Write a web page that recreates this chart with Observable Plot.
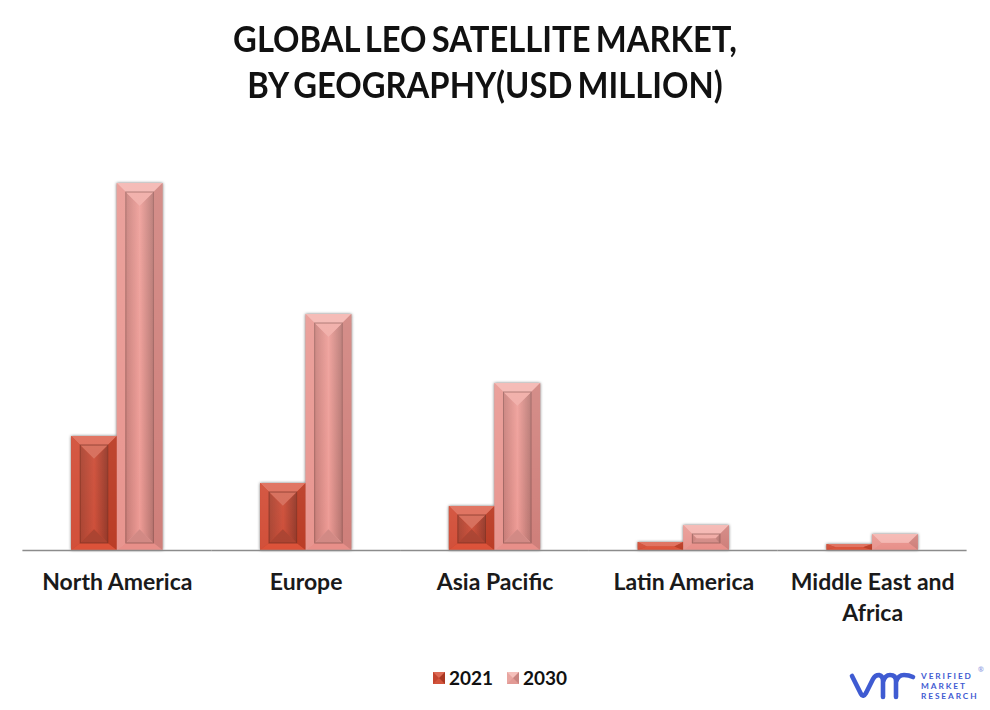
<!DOCTYPE html>
<html><head><meta charset="utf-8">
<script src="https://cdn.jsdelivr.net/npm/d3@7"></script>
<script src="https://cdn.jsdelivr.net/npm/@observablehq/plot@0.6"></script>
<style>
html,body{margin:0;padding:0;background:#fff;width:990px;height:710px;overflow:hidden;font-family:Lato,sans-serif;color:#111}
#title{position:absolute;left:0;top:15px;width:970px;text-align:center;font-weight:700;font-size:36px;line-height:46px;word-spacing:-3px;transform:scaleX(.91);transform-origin:485px 0}
#chart{position:absolute;left:0;top:140px}
#legend{position:absolute;left:0;top:665px;width:990px;height:26px;font-weight:700;font-size:19px}
#legend span{position:absolute;top:0;line-height:26px}
#legend i{position:absolute;top:7px;width:0;height:0;border-style:solid;border-width:6px}
#logo{position:absolute;left:840px;top:660px}
</style></head><body>
<div id="title">GLOBAL LEO SATELLITE MARKET,<br>BY GEOGRAPHY(USD MILLION)</div>
<div id="chart"></div>
<div id="legend">
<i style="left:433px;border-color:#dd6a55 #a93722 #d2543c #c4452f"></i><span style="left:449px">2021</span>
<i style="left:507px;border-color:#f5c0bb #c98480 #e29a95 #e8a6a1"></i><span style="left:523px">2030</span>
</div>
<svg id="logo" width="150" height="50" viewBox="0 0 150 50">
<path d="M12 16 L21 34 Q23 38 26 33 L33 19 Q35 15 39 15 Q43 16 43 21 L43 37 M43 22 Q45 15 50 15 Q56 15 56 21 L56 37 M56 22 Q58 15 64 15 Q69 15 73 17" fill="none" stroke="#3f5bd2" stroke-width="4.6" stroke-linecap="round" stroke-linejoin="round"/>
<g fill="#3f5bd2" font-family="Lato,sans-serif" font-weight="700" font-size="8.3" letter-spacing="1.9">
<text x="81" y="19">VERIFIED</text><text x="81" y="29">MARKET</text><text x="81" y="39">RESEARCH</text>
<text x="138" y="12" font-size="7" letter-spacing="0" fill="#9aa6e4">®</text></g>
</svg>
<script>
const regions = ["North America", "Europe", "Asia Pacific", "Latin America", "Middle East and Africa"];
const tickLabels = ["North America", "Europe", "Asia Pacific", "Latin America", "Middle East and\nAfrica"];
const years = ["2021", "2030"];
const values2021 = [114, 67, 44, 8, 6];
const values2030 = [367, 236, 167, 25, 16];
const colors = ["#c8482f", "#e8a09b"];

const table = regions.flatMap((region, i) => [
  {region, year: years[0], value: values2021[i]},
  {region, year: years[1], value: values2030[i]}
]);

const shades = {
  "2021": {top:"#df6f5c", left:"#d2503a", right:"#bb3d26", bottom:"#dc5239", itop:"#d66c59", ibottom:"#ab4331", edge:"#7d2f20", g:"g21", sheen:"sheen21"},
  "2030": {top:"#f4b3ae", left:"#e8958f", right:"#cf7f7a", bottom:"#e88f89", itop:"#f0a8a2", ibottom:"#d28984", edge:"#8f5652", g:"g30", sheen:"sheen30"}
};

function bevel(index, scales, values, dims, ctx, next) {
  const g = next(index, scales, values, dims, ctx);
  g.style.filter = "drop-shadow(0 0 1.5px rgba(0,0,0,.55))";
  const rects = g.querySelectorAll("rect");
  rects.forEach((r, k) => {
    const d = table[index[k]], s = shades[d.year];
    const x0 = +r.getAttribute("x"), y0 = +r.getAttribute("y");
    const w = +r.getAttribute("width"), h = +r.getAttribute("height");
    const x1 = x0 + w, y1 = y0 + h;
    const parent = d3.select(g);
    const poly = (pts, fill) => parent.append("polygon").attr("points", pts.map(p => p.join(",")).join(" ")).attr("fill", fill);
    const bt = Math.min(9, h * 0.55), bb = Math.min(7, h * 0.45), bs = 9;
    const ax0 = x0 + bs, ax1 = x1 - bs, ay0 = y0 + bt, ay1 = y1 - bb;
    poly([[x0,y0],[x1,y0],[ax1,ay0],[ax0,ay0]], s.top);
    poly([[x0,y1],[x1,y1],[ax1,ay1],[ax0,ay1]], s.bottom);
    poly([[x0,y0],[ax0,ay0],[ax0,ay1],[x0,y1]], s.left);
    poly([[x1,y0],[ax1,ay0],[ax1,ay1],[x1,y1]], s.right);
    const ih = ay1 - ay0;
    if (ih > 3) {
      const t = Math.min((ax1 - ax0) / 2, ih / 2), cx = (ax0 + ax1) / 2;
      poly([[ax0,ay0],[cx,ay0+t],[cx,ay1-t],[ax0,ay1]], `url(#${s.g}l)`);
      poly([[ax1,ay0],[cx,ay0+t],[cx,ay1-t],[ax1,ay1]], `url(#${s.g}r)`);
      poly([[ax0,ay0],[ax1,ay0],[ax1-t,ay0+t],[ax0+t,ay0+t]], s.itop);
      poly([[ax0,ay1],[ax1,ay1],[ax1-t,ay1-t],[ax0+t,ay1-t]], s.ibottom);
      parent.append("rect").attr("x", ax0).attr("y", ay0).attr("width", ax1-ax0).attr("height", ih)
        .attr("fill", "none").attr("stroke", s.edge).attr("stroke-width", 1).attr("stroke-opacity", .75);
    }
    parent.append("rect").attr("x", x0).attr("y", y0).attr("width", w).attr("height", h).attr("fill", `url(#${s.sheen})`);
  });
  return g;
}

const plot = Plot.plot({
  width: 990, height: 500,
  marginLeft: 22.4, marginRight: 23.4, marginTop: 10, marginBottom: 90,
  style: {fontFamily: "Lato, sans-serif", background: "transparent"},
  fx: {domain: regions, padding: 0, round: false, label: null},
  x: {domain: years, paddingInner: 0, paddingOuter: 1.07, round: false, axis: null},
  y: {domain: [0, 400], axis: null},
  color: {domain: years, range: colors},
  marks: [
    Plot.barY(table, {fx: "region", x: "year", y: "value", fill: "year", render: bevel}),
    Plot.ruleY([0], {stroke: "#8c8c8c", strokeWidth: 1.5}),
    Plot.axisFx({
      anchor: "bottom", label: null, tickSize: 0, tickPadding: 17,
      fontSize: 23, fontWeight: 700, fill: "#1a1a1a", lineHeight: 1.35,
      tickFormat: d => tickLabels[regions.indexOf(d)]
    })
  ]
});
const svg = d3.select(plot);
const defs = svg.insert("defs", ":first-child");
const grad = (id, a, b) => {
  const lg = defs.append("linearGradient").attr("id", id).attr("x1", 0).attr("x2", 1).attr("y1", 0).attr("y2", 0);
  lg.append("stop").attr("offset", 0).attr("stop-color", a);
  lg.append("stop").attr("offset", 1).attr("stop-color", b);
};
grad("g21l", "#a94533", "#cd4f3a");
grad("g21r", "#cf4f39", "#94392a");
grad("g30l", "#c67c77", "#ee9a94");
grad("g30r", "#ef9b95", "#b4736e");
const sheen = (id, o) => {
  const lg = defs.append("linearGradient").attr("id", id).attr("x1", 0).attr("x2", 0).attr("y1", 0).attr("y2", 1);
  lg.append("stop").attr("offset", 0).attr("stop-color", "#fff").attr("stop-opacity", o);
  lg.append("stop").attr("offset", 1).attr("stop-color", "#fff").attr("stop-opacity", 0);
};
sheen("sheen21", 0.05);
sheen("sheen30", 0.12);
document.getElementById("chart").append(plot);
</script>
</body></html>
